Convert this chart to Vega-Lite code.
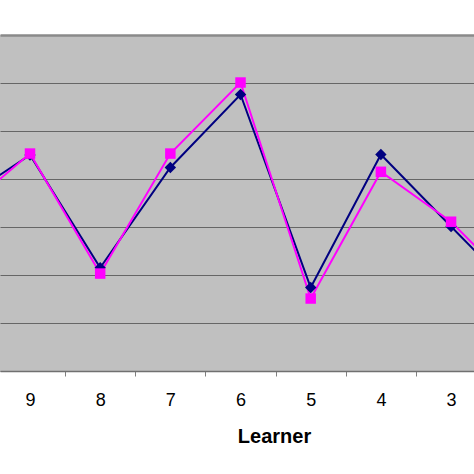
{
  "$schema": "https://vega.github.io/schema/vega-lite/v6.json",
  "width": 474,
  "height": 336,
  "autosize": {"type": "none"},
  "padding": {"left": 0, "top": 35, "right": 0, "bottom": 103},
  "background": "white",
  "config": {
    "view": {"fill": "#C0C0C0", "stroke": null},
    "font": "Liberation Sans"
  },
  "data": {
    "values": [
      {"learner": 10, "series": "A", "value": 35.3},
      {"learner": 9, "series": "A", "value": 45.0},
      {"learner": 8, "series": "A", "value": 21.5},
      {"learner": 7, "series": "A", "value": 42.4},
      {"learner": 6, "series": "A", "value": 57.6},
      {"learner": 5, "series": "A", "value": 17.4},
      {"learner": 4, "series": "A", "value": 45.1},
      {"learner": 3, "series": "A", "value": 30.1},
      {"learner": 2, "series": "A", "value": 15.2},
      {"learner": 10, "series": "B", "value": 32.9},
      {"learner": 9, "series": "B", "value": 45.3},
      {"learner": 8, "series": "B", "value": 20.3},
      {"learner": 7, "series": "B", "value": 45.3},
      {"learner": 6, "series": "B", "value": 60.1},
      {"learner": 5, "series": "B", "value": 15.1},
      {"learner": 4, "series": "B", "value": 41.5},
      {"learner": 3, "series": "B", "value": 31.1},
      {"learner": 2, "series": "B", "value": 16.3}
    ]
  },
  "encoding": {
    "x": {
      "field": "learner",
      "type": "quantitative",
      "scale": {"domain": [2.673, 9.4275], "reverse": true, "nice": false, "zero": false},
      "axis": {
        "title": "Learner",
        "titleFont": "Liberation Sans",
        "titleFontSize": 20,
        "titleFontWeight": "bold",
        "titleColor": "black",
        "titleX": 274,
        "titleY": 71,
        "titleBaseline": "alphabetic",
        "titleAnchor": "middle",
        "titleAlign": "center",
        "values": [9, 8.5, 8, 7.5, 7, 6.5, 6, 5.5, 5, 4.5, 4, 3.5, 3],
        "labelExpr": "datum.value % 1 == 0 ? datum.value : ''",
        "labelFont": "Liberation Sans",
        "labelFontSize": 18,
        "labelColor": "black",
        "labelBaseline": "alphabetic",
        "labelPadding": 29,
        "labelFlush": false,
        "labelOverlap": false,
        "tickSize": 5,
        "tickColor": "#808080",
        "tickWidth": 1,
        "tickOpacity": {"condition": {"test": "datum.value % 1 == 0", "value": 0}, "value": 1},
        "domainColor": "#707070",
        "domainWidth": 1.5,
        "grid": false
      }
    },
    "y": {
      "field": "value",
      "type": "quantitative",
      "scale": {"domain": [0, 70], "nice": false},
      "axis": {
        "title": null,
        "labels": false,
        "ticks": false,
        "domain": false,
        "values": [0, 10, 20, 30, 40, 50, 60, 70],
        "grid": true,
        "gridColor": {"condition": {"test": "datum.value == 70", "value": "#8a8a8a"}, "value": "#666666"},
        "gridWidth": {"condition": {"test": "datum.value == 70", "value": 2.5}, "value": 1.2},
        "gridOpacity": 1
      }
    },
    "color": {
      "field": "series",
      "type": "nominal",
      "scale": {"domain": ["A", "B"], "range": ["#000080", "#FF00FF"]},
      "legend": null
    }
  },
  "layer": [
    {
      "mark": {"type": "line", "strokeWidth": 2, "clip": true}
    },
    {
      "mark": {"type": "point", "filled": true, "opacity": 1, "clip": true},
      "encoding": {
        "shape": {
          "field": "series",
          "type": "nominal",
          "scale": {"domain": ["A", "B"], "range": ["diamond", "square"]},
          "legend": null
        },
        "size": {
          "field": "series",
          "type": "nominal",
          "scale": {"domain": ["A", "B"], "range": [130, 110]},
          "legend": null
        }
      }
    }
  ]
}
